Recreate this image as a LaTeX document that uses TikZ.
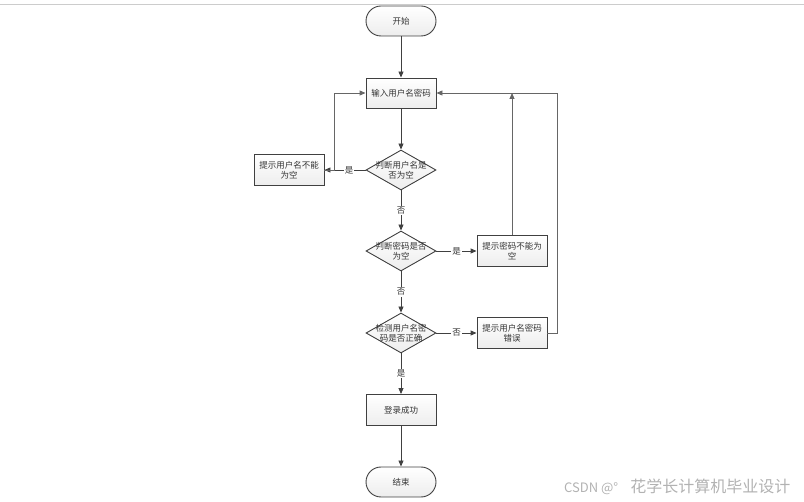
\documentclass[tikz,border=0pt]{standalone}
\usepackage{fontspec}
\setmainfont{Noto Sans CJK SC}
\usetikzlibrary{positioning,shapes.geometric,arrows.meta}

\definecolor{linegray}{HTML}{404040}
\definecolor{boxgray}{HTML}{EDEDED}

\begin{document}
\begin{tikzpicture}[x=1pt,y=-1pt,
    font=\fontsize{8.5}{10}\selectfont,
    every node/.style={text=black!80},
    box/.style={draw=linegray, line width=0.9pt, top color=white, bottom color=boxgray,
        minimum width=70pt, minimum height=31pt, inner sep=1pt, align=center},
    term/.style={box, rounded corners=15pt, minimum height=30pt},
    test/.style={draw=linegray, line width=0.9pt, diamond, top color=white, bottom color=boxgray,
        minimum width=70pt, minimum height=40pt, inner sep=0pt},
    flow/.style={draw=linegray, line width=0.9pt, -{Triangle[length=6pt,width=5pt]}},
    back/.style={flow, draw=black!60},
    tag/.style={fill=white, inner sep=1pt}]

    % frame
    \useasboundingbox (0,0) rectangle (804,502);
    \draw[black!20, line width=1pt] (0,5) -- (804,5);

    % main column
    \node[term] (start) at (401,21) {开始};
    \node[box, minimum height=30pt] (input) at (401,93) {输入用户名密码};
    \node[test, label={[align=center, font=\fontsize{8.5}{10}\selectfont]center:判断用户名是\\否为空}] (d1) at (401,170) {};
    \node[test, label={[align=center, font=\fontsize{8.5}{10}\selectfont]center:判断密码是否\\为空}] (d2) at (401,251) {};
    \node[test, label={[align=center, font=\fontsize{8.5}{10}\selectfont]center:检测用户名密\\码是否正确}] (d3) at (401,333) {};
    \node[box] (ok) at (401,410) {登录成功};
    \node[term] (stop) at (401,482) {结束};

    % side boxes
    \node[box] (nouser) at (289,170) {提示用户名不能\\为空};
    \node[box] (nopass) at (512,251) {提示密码不能为\\空};
    \node[box] (wrong) at (512,333) {提示用户名密码\\错误};

    \coordinate (join) at (nopass.north |- input.east);

    \draw[flow] (start) -- (input);
    \draw[flow] (input) -- (d1);
    \draw[flow] (d1) -- node[tag] {否} (d2);
    \draw[flow] (d2) -- node[tag] {否} (d3);
    \draw[flow] (d3) -- node[tag] {是} (ok);
    \draw[flow] (ok) -- (stop);

    \draw[flow] (d1.west) -- node[tag, pos=0.4] {是} (nouser.east);
    \draw[flow] (d2.east) -- node[tag, pos=0.5] {是} (nopass.west);
    \draw[flow] (d3.east) -- node[tag, pos=0.5] {否} (wrong.west);

    % loops back to input
    \draw[back] (nouser.east) -- ++(10,0) |- (input.west);
    \draw[back] (nopass.north) -- (join);
    \draw[back] (wrong.east) -- ++(10,0) |- (input.east);

    % watermark
    \node[anchor=west, text=black!30, font=\fontsize{13}{15}\selectfont, inner sep=0pt] (mark) at (564,487)
        {CSDN @°\hspace{12pt}\fontsize{16}{16}\selectfont 花学长计算机毕业设计};
\end{tikzpicture}
\end{document}
